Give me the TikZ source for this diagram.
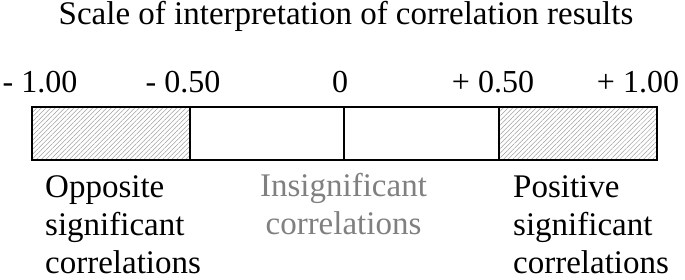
\documentclass[tikz,border=0pt]{standalone}
\usepackage{fontspec}
\setmainfont{Liberation Serif}
\usetikzlibrary{patterns.meta}
\definecolor{hatchgray}{HTML}{A0A0A0}
\definecolor{labelgray}{HTML}{808080}
\tikzset{
  titletext/.style={font=\fontsize{33}{38}\selectfont, inner sep=0pt, anchor=base},
  numtext/.style={font=\fontsize{32}{36}\selectfont, inner sep=0pt, anchor=base},
  desctext/.style={font=\fontsize{33}{38}\selectfont, inner sep=0pt, align=left, anchor=base west},
  hatched/.style={pattern={Lines[angle=45,distance=3.3pt,line width=0.5pt]}, pattern color=hatchgray},
  boxline/.style={draw=black, line width=2pt},
  divline/.style={draw=black, line width=1.6pt}
}
\begin{document}
\begin{tikzpicture}[x=1pt,y=-1pt]
\useasboundingbox (0,0) rectangle (685,280);
% title
\node[titletext] (title) at (346,25) {Scale of interpretation of correlation results};
% scale values
\node[numtext] (m100) at (40,93) {- 1.00};
\node[numtext] (m050) at (183,93) {- 0.50};
\node[numtext] (zero) at (340,93) {0};
\node[numtext] (p050) at (493,93) {+ 0.50};
\node[numtext] (p100) at (638,93) {+ 1.00};
% bar
\coordinate (bl) at (32,160);
\coordinate (tr) at (657,107);
\fill[hatched] (32,107) rectangle (190,160);
\fill[hatched] (499,107) rectangle (657,160);
\draw[divline] (190,107) -- (190,160);
\draw[divline] (344,107) -- (344,160);
\draw[divline] (499,107) -- (499,160);
\draw[boxline] (bl) rectangle (tr);
% descriptions (base anchor = baseline of last line)
\node[desctext] (opp) at (45,273) {Opposite\\significant\\correlations};
\node[desctext, text=labelgray, align=center, anchor=base] (ins) at (343.5,235) {Insignificant\\correlations};
\node[desctext] (pos) at (513,273) {Positive\\significant\\correlations};
\end{tikzpicture}
\end{document}
